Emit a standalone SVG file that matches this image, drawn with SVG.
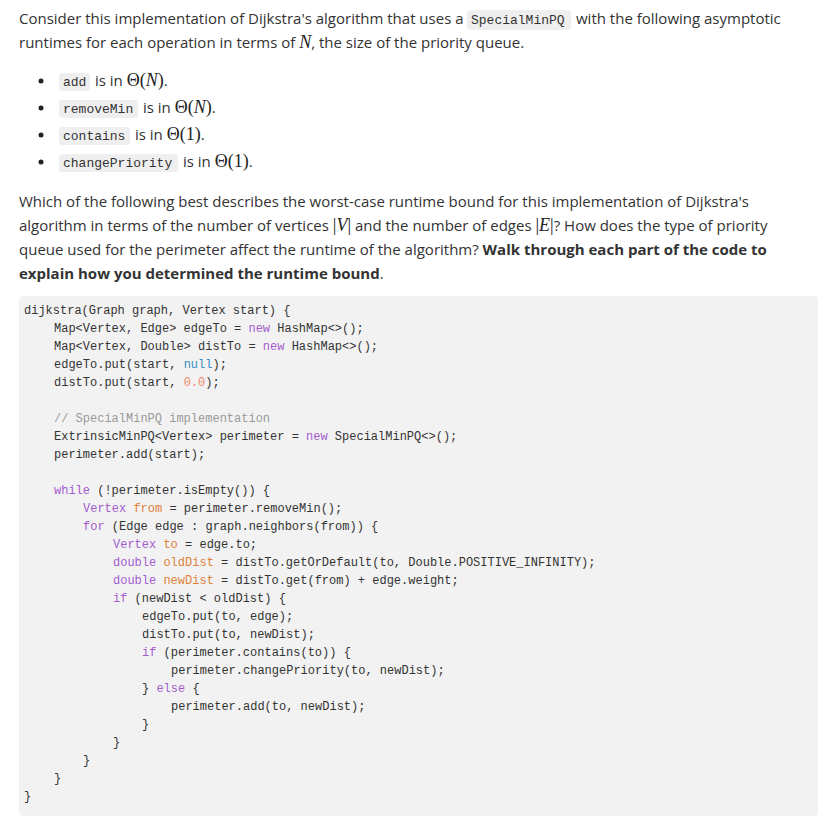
<svg xmlns="http://www.w3.org/2000/svg" width="829" height="823" viewBox="0 0 829 823">
<style>
.t{font-family:"Open Sans","Noto Sans",sans-serif;font-size:15px;fill:#333}
.b{font-weight:bold}
.m{font-family:"Liberation Serif","DejaVu Serif",serif;font-size:18px;fill:#222}
.i{font-style:italic}
.ic{font-family:"Liberation Mono","DejaVu Sans Mono",monospace;font-size:13px;fill:#333}
.icb{fill:#efefef}
.c{font-family:"Liberation Mono","DejaVu Sans Mono",monospace;font-size:12px;fill:#333;white-space:pre}
.k{fill:#a45ccf}
.v{fill:#e0813a}
.n{fill:#3b8cc3}
.num{fill:#f2876b}
.cm{fill:#9a9a9a}
</style>
<rect width="829" height="823" fill="#fff"/>
<g id="intro">
<text class="t" x="19" y="24">Consider this implementation of Dijkstra's algorithm that uses a </text>
<rect class="icb" x="467" y="10" width="104" height="20" rx="3"/>
<text class="ic" x="471" y="24">SpecialMinPQ</text>
<text class="t" x="576" y="24">with the following asymptotic</text>
<text class="t" x="19" y="48">runtimes for each operation in terms of <tspan class="m i">N</tspan>, the size of the priority queue.</text>
</g>
<g id="bullets">
<circle cx="41" cy="81" r="2.5" fill="#222"/>
<circle cx="41" cy="108" r="2.5" fill="#222"/>
<circle cx="41" cy="135" r="2.5" fill="#222"/>
<circle cx="41" cy="162" r="2.5" fill="#222"/>
<rect class="icb" x="59" y="73" width="31" height="18" rx="3"/>
<text class="ic" x="63" y="86">add</text>
<text class="t" x="95" y="86">is in <tspan class="m">Θ(</tspan><tspan class="m i">N</tspan><tspan class="m">)</tspan>.</text>
<rect class="icb" x="59" y="100" width="79" height="18" rx="3"/>
<text class="ic" x="63" y="113">removeMin</text>
<text class="t" x="143" y="113">is in <tspan class="m">Θ(</tspan><tspan class="m i">N</tspan><tspan class="m">)</tspan>.</text>
<rect class="icb" x="59" y="127" width="71" height="18" rx="3"/>
<text class="ic" x="63" y="140">contains</text>
<text class="t" x="135" y="140">is in <tspan class="m">Θ(1)</tspan>.</text>
<rect class="icb" x="59" y="154" width="119" height="18" rx="3"/>
<text class="ic" x="63" y="167">changePriority</text>
<text class="t" x="183" y="167">is in <tspan class="m">Θ(1)</tspan>.</text>
</g>
<g id="question">
<text class="t" x="19" y="207">Which of the following best describes the worst-case runtime bound for this implementation of Dijkstra's</text>
<text class="t" x="19" y="231">algorithm in terms of the number of vertices <tspan class="m">|</tspan><tspan class="m i">V</tspan><tspan class="m">|</tspan> and the number of edges <tspan class="m">|</tspan><tspan class="m i">E</tspan><tspan class="m">|</tspan>? How does the type of priority</text>
<text class="t" x="19" y="255">queue used for the perimeter affect the runtime of the algorithm? <tspan class="b">Walk through each part of the code to</tspan></text>
<text class="t" x="19" y="279"><tspan class="b">explain how you determined the runtime bound</tspan>.</text>
</g>
<g id="code">
<rect x="19" y="296" width="799" height="520" rx="4" fill="#f2f2f2"/>
<text class="c" x="24" y="314">dijkstra(Graph graph, Vertex start) {</text>
<text class="c" x="54" y="332">Map&lt;Vertex, Edge&gt; edgeTo = <tspan class="k">new</tspan> HashMap&lt;&gt;();</text>
<text class="c" x="54" y="350">Map&lt;Vertex, Double&gt; distTo = <tspan class="k">new</tspan> HashMap&lt;&gt;();</text>
<text class="c" x="54" y="368">edgeTo.put(start, <tspan class="n">null</tspan>);</text>
<text class="c" x="54" y="386">distTo.put(start, <tspan class="num">0.0</tspan>);</text>
<text class="c cm" x="54" y="422">// SpecialMinPQ implementation</text>
<text class="c" x="54" y="440">ExtrinsicMinPQ&lt;Vertex&gt; perimeter = <tspan class="k">new</tspan> SpecialMinPQ&lt;&gt;();</text>
<text class="c" x="54" y="458">perimeter.add(start);</text>
<text class="c" x="54" y="494"><tspan class="k">while</tspan> (!perimeter.isEmpty()) {</text>
<text class="c" x="83" y="512"><tspan class="k">Vertex</tspan> <tspan class="v">from</tspan> = perimeter.removeMin();</text>
<text class="c" x="83" y="530"><tspan class="k">for</tspan> (Edge edge : graph.neighbors(from)) {</text>
<text class="c" x="113" y="548"><tspan class="k">Vertex</tspan> <tspan class="v">to</tspan> = edge.to;</text>
<text class="c" x="113" y="566"><tspan class="k">double</tspan> <tspan class="v">oldDist</tspan> = distTo.getOrDefault(to, Double.POSITIVE_INFINITY);</text>
<text class="c" x="113" y="584"><tspan class="k">double</tspan> <tspan class="v">newDist</tspan> = distTo.get(from) + edge.weight;</text>
<text class="c" x="113" y="602"><tspan class="k">if</tspan> (newDist &lt; oldDist) {</text>
<text class="c" x="142" y="620">edgeTo.put(to, edge);</text>
<text class="c" x="142" y="638">distTo.put(to, newDist);</text>
<text class="c" x="142" y="656"><tspan class="k">if</tspan> (perimeter.contains(to)) {</text>
<text class="c" x="171" y="674">perimeter.changePriority(to, newDist);</text>
<text class="c" x="142" y="692">} <tspan class="k">else</tspan> {</text>
<text class="c" x="171" y="710">perimeter.add(to, newDist);</text>
<text class="c" x="142" y="728">}</text>
<text class="c" x="113" y="746">}</text>
<text class="c" x="83" y="764">}</text>
<text class="c" x="54" y="782">}</text>
<text class="c" x="24" y="800">}</text>
</g>
</svg>
